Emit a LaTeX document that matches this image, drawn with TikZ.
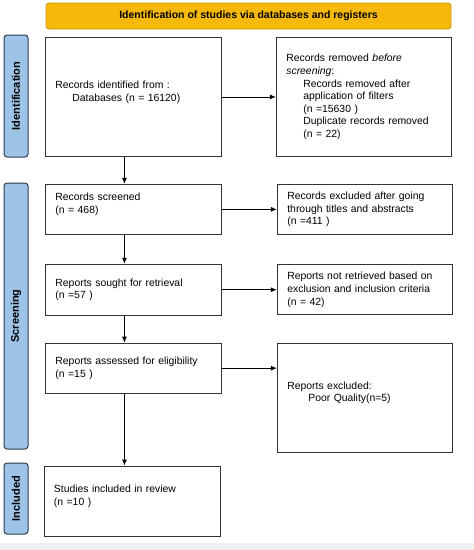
\documentclass[tikz,border=0pt]{standalone}
\usepackage{fontspec}
\setmainfont{Liberation Sans}
\usetikzlibrary{positioning,calc,arrows.meta}
\definecolor{bannerfill}{HTML}{F6B90A}
\definecolor{bannerline}{HTML}{C8960A}
\definecolor{phasefill}{HTML}{9DC3E6}
\definecolor{phaseline}{HTML}{2E3D4F}
\tikzstyle{box} = [draw=black!80, line width=0.9pt, fill=white, rectangle, inner xsep=10pt, align=left, font=\fontsize{10.4}{12.6}\selectfont]
\tikzstyle{leftbox} = [box, text width=156pt, minimum height=50pt]
\tikzstyle{rightbox} = [box, text width=155pt, minimum height=50pt]
\tikzstyle{raised} = [text depth=24.5pt]
\tikzstyle{phase} = [draw=phaseline, line width=1pt, fill=phasefill, rounded corners=3pt, rotate=90, minimum height=24pt, inner sep=0pt, font=\bfseries\fontsize{11}{13}\selectfont]
\tikzstyle{banner} = [draw=bannerline, line width=0.8pt, fill=bannerfill, rounded corners=3pt, minimum width=405pt, minimum height=26pt, inner sep=0pt, font=\bfseries\fontsize{10.5}{12}\selectfont]

\begin{document}
\begin{tikzpicture}[x=1pt, y=1pt, auto, node distance=28pt, >={Latex[length=6pt,width=5pt]}, line width=0.9pt]
        \useasboundingbox (0,0) rectangle (474,-550);
        \fill[black!6] (0,-543) rectangle (474,-550);

        \node [banner] (head) at (248.5,-16) {Identification of studies via databases and registers};

        \node [phase, minimum width=122pt] (phid) at (16,-96) {Identification};
        \node [phase, minimum width=266pt] (phscr) at (16,-316) {Screening};
        \node [phase, minimum width=71pt] (phinc) at (16,-498.5) {Included};

        \node [leftbox, raised, minimum height=119pt, anchor=north west] (id) at (45,-37) {Records identified from :\\\hspace*{17pt}Databases (n = 16120)};
        \node [rightbox, minimum height=119pt, right=54pt of id] (idx) {Records removed \textit{before}\\\textit{screening}:\\\hspace*{17pt}Records removed after\\\hspace*{17pt}application of filters\\\hspace*{17pt}(n =15630 )\\\hspace*{17pt}Duplicate records removed\\\hspace*{17pt}(n = 22)};

        \node [leftbox, raised, below=27pt of id] (screened) {Records screened\\(n = 468)};
        \node [rightbox, right=55pt of screened] (screenx) {Records excluded after going\\through titles and abstracts\\(n =411 )};

        \node [leftbox, minimum height=51pt, below=29pt of screened] (sought) {Reports sought for retrieval\\(n =57 )};
        \node [rightbox, right=55pt of sought] (soughtx) {Reports not retrieved based on\\exclusion and inclusion criteria\\(n = 42)};

        \node [leftbox, below=27pt of sought] (assessed) {Reports assessed for eligibility\\(n =15 )};
        \node [rightbox, raised, minimum height=109pt, anchor=north west] (assessedx) at ($(assessed.north east)+(55,0)$) {Reports excluded:\\\hspace*{21pt}Poor Quality(n=5)};

        \node [leftbox, raised, minimum height=70pt, below=72pt of assessed, xshift=-1.5pt] (included) {Studies included in review\\(n =10 )};

        \draw [->] (id) -- (idx);
        \draw [->] (screened) -- (screenx);
        \draw [->] (sought) -- (soughtx);
        \draw [->] (assessed.east) -- (assessed.east -| assessedx.west);

        \draw [->] ([xshift=-9pt]id.south) -- ([xshift=-9pt]screened.north);
        \draw [->] ([xshift=-9pt]screened.south) -- ([xshift=-9pt]sought.north);
        \draw [->] ([xshift=-9pt]sought.south) -- ([xshift=-9pt]assessed.north);
        \draw [->] ([xshift=-9pt]assessed.south) -- ([xshift=-9pt]assessed.south |- included.north);
    \end{tikzpicture}
\end{document}
